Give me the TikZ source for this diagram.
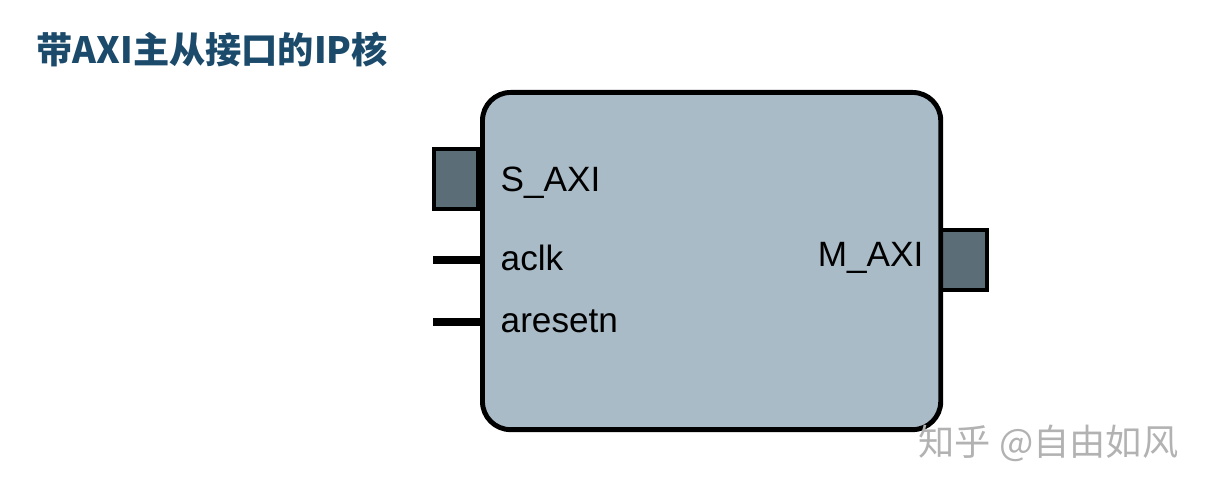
\documentclass[tikz,border=0pt]{standalone}
\usepackage{fontspec}
\setmainfont{Liberation Sans}
\newfontfamily\cjk{Noto Sans CJK SC}
\definecolor{boxfill}{HTML}{A9BBC7}
\definecolor{portfill}{HTML}{5B6E77}
\definecolor{titleblue}{HTML}{1B4A6B}
\begin{document}
\begin{tikzpicture}[x=0.01cm,y=-0.01cm,
  port/.style={draw=black,line width=1.1pt,fill=portfill,inner sep=0pt,minimum width=0.44cm,minimum height=0.6cm},
  lbl/.style={font=\fontsize{10}{12}\selectfont,inner sep=0pt}]
\useasboundingbox (0,0) rectangle (1213,492);
\node[anchor=west,inner sep=0pt,text=titleblue,font=\cjk\bfseries\fontsize{10.3}{12}\selectfont] (title) at (36,50) {带AXI主从接口的IP核};
\node[port] (sport) at (456,179) {};
\node[port,minimum width=0.46cm] (mport) at (964,260) {};
\node[draw=black,line width=1.4pt,fill=boxfill,rounded corners=8pt,inner sep=0pt,
  minimum width=4.58cm,minimum height=3.37cm,anchor=north west] (core) at (480,90) {};
\coordinate (clkA) at (433,260); \coordinate (rstA) at (433,322);
\draw[line width=2.3pt] (clkA) -- (clkA -| core.west);
\draw[line width=2.3pt] (rstA) -- (rstA -| core.west);
\node[lbl,anchor=west] (s) at (500,183) {S\_AXI};
\node[lbl,anchor=west] (c) at (500,258) {aclk};
\node[lbl,anchor=west] (r) at (500,321) {aresetn};
\node[lbl,anchor=east] (m) at (924,258) {M\_AXI};
\node[anchor=west,inner sep=0pt,text=black!30,font=\cjk\fontsize{10.3}{12}\selectfont] (wm) at (918,443) {知乎 @自由如风};
\end{tikzpicture}
\end{document}
